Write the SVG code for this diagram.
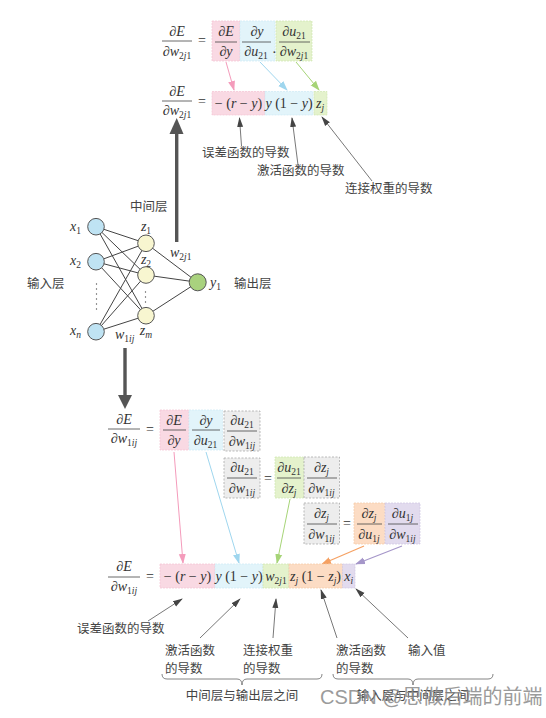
<svg xmlns="http://www.w3.org/2000/svg" width="546" height="718" viewBox="0 0 546 718">
<style>
.m{font-family:"Liberation Serif",serif;font-style:italic;font-size:14px;fill:#333}
.n{font-style:normal}
.s{font-size:9.5px}
.eq{font-family:"Liberation Serif",serif;font-size:14px;fill:#333}
.cn{font-family:"Noto Sans CJK SC","Noto Sans",sans-serif;font-size:12.5px;fill:#444}
.bar{stroke:#444;stroke-width:0.8}
.pk{fill:#f9d9e3;stroke:#f3c3d3;stroke-width:0.7;stroke-dasharray:2 1}
.bl{fill:#e2f4fa;stroke:#cdeaf5;stroke-width:0.7;stroke-dasharray:2 1}
.gr{fill:#e4f2cc;stroke:#cfe6b0;stroke-width:0.7;stroke-dasharray:2 1}
.or{fill:#fcdcc4;stroke:#f5caa8;stroke-width:0.7;stroke-dasharray:2 1}
.pu{fill:#e2dbee;stroke:#cfc6e2;stroke-width:0.7;stroke-dasharray:2 1}
.gy{fill:#ededed;stroke:#aaa;stroke-width:0.8;stroke-dasharray:2 1.5}
.net{stroke:#444;stroke-width:1}
.node{stroke:#555;stroke-width:1}
.ann{stroke:#555;stroke-width:0.8;fill:none;marker-end:url(#ak)}
.big{fill:#555}
.brace{fill:none;stroke:#666;stroke-width:0.8}
</style>
<defs>
<marker id="ak" markerWidth="10" markerHeight="8" refX="9" refY="4" orient="auto" markerUnits="userSpaceOnUse"><path d="M0,1 L10,4 L0,7 z" fill="#444"/></marker>
<marker id="apk" markerWidth="10" markerHeight="8" refX="9" refY="4" orient="auto" markerUnits="userSpaceOnUse"><path d="M0,0.5 L10,4 L0,7.5 z" fill="#f49bbb"/></marker>
<marker id="abl" markerWidth="10" markerHeight="8" refX="9" refY="4" orient="auto" markerUnits="userSpaceOnUse"><path d="M0,0.5 L10,4 L0,7.5 z" fill="#9fd6ee"/></marker>
<marker id="agr" markerWidth="10" markerHeight="8" refX="9" refY="4" orient="auto" markerUnits="userSpaceOnUse"><path d="M0,0.5 L10,4 L0,7.5 z" fill="#a6d477"/></marker>
<marker id="aor" markerWidth="10" markerHeight="8" refX="9" refY="4" orient="auto" markerUnits="userSpaceOnUse"><path d="M0,0.5 L10,4 L0,7.5 z" fill="#f5a062"/></marker>
<marker id="apu" markerWidth="10" markerHeight="8" refX="9" refY="4" orient="auto" markerUnits="userSpaceOnUse"><path d="M0,0.5 L10,4 L0,7.5 z" fill="#a596c9"/></marker>
</defs>
<rect width="546" height="718" fill="#ffffff"/>

<g id="connectors">
  <line x1="226" y1="62" x2="234" y2="90" stroke="#f49bbb" stroke-width="1" marker-end="url(#apk)"/>
  <line x1="260" y1="62" x2="287" y2="90" stroke="#9fd6ee" stroke-width="1" marker-end="url(#abl)"/>
  <line x1="296" y1="62" x2="319" y2="90" stroke="#a6d477" stroke-width="1" marker-end="url(#agr)"/>
  <line class="ann" x1="241.5" y1="146" x2="239.5" y2="118"/>
  <line class="ann" x1="298" y1="165" x2="292" y2="118"/>
  <line class="ann" x1="372" y1="181" x2="322" y2="117"/>
  <rect class="big" x="175" y="133" width="3.4" height="109"/>
  <polygon class="big" points="169.5,134 183.5,134 176.7,118"/>
  <rect class="big" x="123.3" y="348" width="3.4" height="48"/>
  <polygon class="big" points="118,395 132,395 125,409"/>
  <g class="net">
    <line x1="96" y1="226.7" x2="146" y2="243.3"/>
    <line x1="96" y1="226.7" x2="146" y2="275"/>
    <line x1="96" y1="226.7" x2="146" y2="315.7"/>
    <line x1="96" y1="261.7" x2="146" y2="243.3"/>
    <line x1="96" y1="261.7" x2="146" y2="275"/>
    <line x1="96" y1="261.7" x2="146" y2="315.7"/>
    <line x1="96" y1="331.7" x2="146" y2="243.3"/>
    <line x1="96" y1="331.7" x2="146" y2="275"/>
    <line x1="96" y1="331.7" x2="146" y2="315.7"/>
    <line x1="146" y1="243.3" x2="197.7" y2="282.3"/>
    <line x1="146" y1="275" x2="197.7" y2="282.3"/>
    <line x1="146" y1="315.7" x2="197.7" y2="282.3"/>
  </g>
  <line x1="174" y1="452" x2="183" y2="563" stroke="#f49bbb" stroke-width="1" marker-end="url(#apk)"/>
  <line x1="206" y1="452" x2="239" y2="563" stroke="#9fd6ee" stroke-width="1" marker-end="url(#abl)"/>
  <line x1="290" y1="499" x2="277" y2="563" stroke="#a6d477" stroke-width="1" marker-end="url(#agr)"/>
  <line x1="364" y1="546" x2="322" y2="564" stroke="#f5a062" stroke-width="1.2" marker-end="url(#aor)"/>
  <line x1="402" y1="546" x2="356" y2="564" stroke="#a596c9" stroke-width="1.2" marker-end="url(#apu)"/>
  <line class="ann" x1="148" y1="621" x2="182" y2="599"/>
  <line class="ann" x1="200" y1="638" x2="240" y2="599"/>
  <line class="ann" x1="273" y1="638" x2="276" y2="599"/>
  <line class="ann" x1="337" y1="638" x2="321" y2="590"/>
  <line class="ann" x1="408" y1="638" x2="356" y2="589"/>
  <path class="brace" d="M162,674 q0,5 5,5 L237,679 q5,0 5,6 q0,-6 5,-6 L317,679 q5,0 5,-5"/>
  <path class="brace" d="M333,674 q0,5 5,5 L408,679 q5,0 5,6 q0,-6 5,-6 L488,679 q5,0 5,-5"/>
</g>

<g id="eq-top">
  <text class="m" x="177" y="36" text-anchor="middle">∂E</text>
  <line class="bar" x1="162" y1="41" x2="192" y2="41"/>
  <text class="m" x="177" y="56" text-anchor="middle">∂w<tspan class="s" dy="3"><tspan class="n">2</tspan>j<tspan class="n">1</tspan></tspan></text>
  <text class="eq" x="202" y="45" text-anchor="middle">=</text>
  <rect class="pk" x="212" y="21" width="28" height="40"/>
  <rect class="bl" x="240" y="21" width="35" height="40"/>
  <rect class="gr" x="276" y="21" width="36" height="40"/>
  <text class="m" x="226" y="36" text-anchor="middle">∂E</text>
  <line class="bar" x1="215" y1="42" x2="237" y2="42"/>
  <text class="m" x="226" y="56" text-anchor="middle">∂y</text>
  <text class="m" x="257" y="36" text-anchor="middle">∂y</text>
  <line class="bar" x1="242" y1="42" x2="271" y2="42"/>
  <text class="m" x="256" y="56" text-anchor="middle">∂u<tspan class="s n" dy="3">21</tspan></text>
  <text class="eq" x="272" y="57">·</text>
  <text class="m" x="294" y="36" text-anchor="middle">∂u<tspan class="s n" dy="3">21</tspan></text>
  <line class="bar" x1="279" y1="42" x2="310" y2="42"/>
  <text class="m" x="294" y="56" text-anchor="middle">∂w<tspan class="s" dy="3"><tspan class="n">2</tspan>j<tspan class="n">1</tspan></tspan></text>
</g>

<g id="eq-top-result">
  <text class="m" x="177" y="96" text-anchor="middle">∂E</text>
  <line class="bar" x1="162" y1="101" x2="192" y2="101"/>
  <text class="m" x="177" y="115" text-anchor="middle">∂w<tspan class="s" dy="3"><tspan class="n">2</tspan>j<tspan class="n">1</tspan></tspan></text>
  <text class="eq" x="202" y="106" text-anchor="middle">=</text>
  <rect class="pk" x="212" y="91.5" width="53" height="23.5"/>
  <rect class="bl" x="265" y="91.5" width="48" height="23.5"/>
  <rect class="gr" x="314" y="91.5" width="13" height="23.5"/>
  <text class="m" x="238.5" y="108" text-anchor="middle"><tspan class="n">− (</tspan>r <tspan class="n">−</tspan> y<tspan class="n">)</tspan></text>
  <text class="m" x="289" y="108" text-anchor="middle">y <tspan class="n">(1 −</tspan> y<tspan class="n">)</tspan></text>
  <text class="m" x="320" y="108" text-anchor="middle">z<tspan class="s" dy="3">j</tspan></text>
</g>

<g id="label-top-error"><text class="cn" x="202" y="157">误差函数的导数</text></g>
<g id="label-top-act"><text class="cn" x="257" y="175">激活函数的导数</text></g>
<g id="label-top-weight"><text class="cn" x="345" y="193">连接权重的导数</text></g>

<g id="network">
  <text class="cn" x="130" y="211">中间层</text>
  <text class="cn" x="27" y="288">输入层</text>
  <text class="cn" x="234" y="288">输出层</text>
  <g id="node-x1"><circle class="node" cx="96" cy="226.7" r="8.3" fill="#bfe3f3"/><text class="m" x="70" y="231">x<tspan class="s n" dy="3">1</tspan></text></g>
  <g id="node-x2"><circle class="node" cx="96" cy="261.7" r="8.3" fill="#bfe3f3"/><text class="m" x="70" y="265">x<tspan class="s n" dy="3">2</tspan></text></g>
  <g id="node-xn"><circle class="node" cx="96" cy="331.7" r="8.3" fill="#bfe3f3"/><text class="m" x="70" y="335">x<tspan class="s" dy="3">n</tspan></text></g>
  <g id="dots-x" fill="#555"><circle cx="96.5" cy="284" r="0.7"/><circle cx="96.5" cy="289" r="0.7"/><circle cx="96.5" cy="294" r="0.7"/><circle cx="96.5" cy="299" r="0.7"/><circle cx="96.5" cy="304" r="0.7"/><circle cx="96.5" cy="309" r="0.7"/></g>
  <g id="node-z1"><circle class="node" cx="146" cy="243.3" r="8.3" fill="#f8f6d0"/><text class="m" x="146" y="231" text-anchor="middle">z<tspan class="s n" dy="3">1</tspan></text></g>
  <g id="node-z2"><circle class="node" cx="146" cy="275" r="8.3" fill="#f8f6d0"/><text class="m" x="146" y="264" text-anchor="middle">z<tspan class="s n" dy="3">2</tspan></text></g>
  <g id="node-zm"><circle class="node" cx="146" cy="315.7" r="8.3" fill="#f8f6d0"/><text class="m" x="146" y="335" text-anchor="middle">z<tspan class="s" dy="3">m</tspan></text></g>
  <g id="dots-z" fill="#555"><circle cx="145.5" cy="292" r="0.7"/><circle cx="145.5" cy="297" r="0.7"/><circle cx="145.5" cy="302" r="0.7"/></g>
  <g id="node-y1"><circle class="node" cx="197.7" cy="282.3" r="8.5" fill="#a9d27e"/><text class="m" x="210" y="287">y<tspan class="s n" dy="3">1</tspan></text></g>
  <text class="m" x="170" y="257" font-size="13">w<tspan class="s" dy="3"><tspan class="n">2</tspan>j<tspan class="n">1</tspan></tspan></text>
  <text class="m" x="115" y="339" font-size="13">w<tspan class="s" dy="3"><tspan class="n">1</tspan>ij</tspan></text>
</g>

<g id="eq-mid">
  <text class="m" x="124" y="424" text-anchor="middle">∂E</text>
  <line class="bar" x1="108" y1="429" x2="140" y2="429"/>
  <text class="m" x="124" y="443" text-anchor="middle">∂w<tspan class="s" dy="3"><tspan class="n">1</tspan>ij</tspan></text>
  <text class="eq" x="150" y="434" text-anchor="middle">=</text>
  <rect class="pk" x="160" y="410" width="28.5" height="40"/>
  <rect class="bl" x="189" y="410" width="33.5" height="40"/>
  <rect class="gy" x="224" y="411" width="36" height="40"/>
  <text class="m" x="174" y="425" text-anchor="middle">∂E</text>
  <line class="bar" x1="163" y1="430" x2="186" y2="430"/>
  <text class="m" x="174" y="445" text-anchor="middle">∂y</text>
  <text class="m" x="206" y="425" text-anchor="middle">∂y</text>
  <line class="bar" x1="192" y1="430" x2="220" y2="430"/>
  <text class="m" x="205.5" y="445" text-anchor="middle">∂u<tspan class="s n" dy="3">21</tspan></text>
  <text class="m" x="242" y="425" text-anchor="middle">∂u<tspan class="s n" dy="3">21</tspan></text>
  <line class="bar" x1="227" y1="431" x2="257" y2="431"/>
  <text class="m" x="242" y="446" text-anchor="middle">∂w<tspan class="s" dy="3"><tspan class="n">1</tspan>ij</tspan></text>
</g>

<g id="eq-mid-2">
  <rect class="gy" x="224" y="458" width="36" height="40"/>
  <text class="m" x="242" y="472" text-anchor="middle">∂u<tspan class="s n" dy="3">21</tspan></text>
  <line class="bar" x1="227" y1="478" x2="257" y2="478"/>
  <text class="m" x="242" y="493" text-anchor="middle">∂w<tspan class="s" dy="3"><tspan class="n">1</tspan>ij</tspan></text>
  <text class="eq" x="268" y="483" text-anchor="middle">=</text>
  <rect class="gr" x="275" y="457" width="28.5" height="41"/>
  <rect class="gy" x="304" y="457" width="35.5" height="41"/>
  <text class="m" x="289" y="472" text-anchor="middle">∂u<tspan class="s n" dy="3">21</tspan></text>
  <line class="bar" x1="277" y1="478" x2="301" y2="478"/>
  <text class="m" x="289" y="493" text-anchor="middle">∂z<tspan class="s" dy="3">j</tspan></text>
  <text class="m" x="321.5" y="472" text-anchor="middle">∂z<tspan class="s" dy="3">j</tspan></text>
  <line class="bar" x1="307" y1="478" x2="337" y2="478"/>
  <text class="m" x="321.5" y="493" text-anchor="middle">∂w<tspan class="s" dy="3"><tspan class="n">1</tspan>ij</tspan></text>
</g>

<g id="eq-mid-3">
  <rect class="gy" x="304" y="503" width="35.5" height="41"/>
  <text class="m" x="321.5" y="518" text-anchor="middle">∂z<tspan class="s" dy="3">j</tspan></text>
  <line class="bar" x1="307" y1="524" x2="337" y2="524"/>
  <text class="m" x="321.5" y="539" text-anchor="middle">∂w<tspan class="s" dy="3"><tspan class="n">1</tspan>ij</tspan></text>
  <text class="eq" x="347" y="528" text-anchor="middle">=</text>
  <rect class="or" x="354" y="503" width="30.5" height="41"/>
  <rect class="pu" x="385" y="503" width="35" height="41"/>
  <text class="m" x="369" y="518" text-anchor="middle">∂z<tspan class="s" dy="3">j</tspan></text>
  <line class="bar" x1="357" y1="524" x2="382" y2="524"/>
  <text class="m" x="369" y="539" text-anchor="middle">∂u<tspan class="s" dy="3"><tspan class="n">1</tspan>j</tspan></text>
  <text class="m" x="402.5" y="518" text-anchor="middle">∂u<tspan class="s" dy="3"><tspan class="n">1</tspan>j</tspan></text>
  <line class="bar" x1="388" y1="524" x2="418" y2="524"/>
  <text class="m" x="402.5" y="539" text-anchor="middle">∂w<tspan class="s" dy="3"><tspan class="n">1</tspan>ij</tspan></text>
</g>

<g id="eq-bottom">
  <text class="m" x="124" y="571" text-anchor="middle">∂E</text>
  <line class="bar" x1="108" y1="577" x2="140" y2="577"/>
  <text class="m" x="124" y="591" text-anchor="middle">∂w<tspan class="s" dy="3"><tspan class="n">1</tspan>ij</tspan></text>
  <text class="eq" x="150" y="581" text-anchor="middle">=</text>
  <rect class="pk" x="160" y="564" width="55" height="24"/>
  <rect class="bl" x="215" y="564" width="48" height="24"/>
  <rect class="gr" x="263" y="564" width="26" height="24"/>
  <rect class="or" x="289" y="564" width="53.5" height="24"/>
  <rect class="pu" x="342.5" y="564" width="12.5" height="24"/>
  <text class="m" x="187.5" y="581" text-anchor="middle"><tspan class="n">− (</tspan>r <tspan class="n">−</tspan> y<tspan class="n">)</tspan></text>
  <text class="m" x="239" y="581" text-anchor="middle">y <tspan class="n">(1 −</tspan> y<tspan class="n">)</tspan></text>
  <text class="m" x="276" y="581" text-anchor="middle">w<tspan class="s" dy="3"><tspan class="n">2</tspan>j<tspan class="n">1</tspan></tspan></text>
  <text class="m" x="315.5" y="581" text-anchor="middle">z<tspan class="s" dy="3">j</tspan><tspan dy="-3" class="n"> (1 −</tspan> z<tspan class="s" dy="3">j</tspan><tspan class="n" dy="-3">)</tspan></text>
  <text class="m" x="348.7" y="581" text-anchor="middle">x<tspan class="s" dy="3">i</tspan></text>
</g>

<g id="label-bot-error"><text class="cn" x="77" y="633">误差函数的导数</text></g>
<g id="label-bot-act1"><text class="cn" x="165" y="655">激活函数</text><text class="cn" x="165" y="673">的导数</text></g>
<g id="label-bot-weight"><text class="cn" x="243" y="655">连接权重</text><text class="cn" x="243" y="673">的导数</text></g>
<g id="label-bot-act2"><text class="cn" x="336" y="655">激活函数</text><text class="cn" x="336" y="673">的导数</text></g>
<g id="label-bot-input"><text class="cn" x="408" y="655">输入值</text></g>
<g id="label-brace1"><text class="cn" x="242" y="700" text-anchor="middle">中间层与输出层之间</text></g>
<g id="label-brace2"><text class="cn" x="413" y="700" text-anchor="middle">输入层与中间层之间</text></g>
<g id="watermark"><text x="320" y="704" font-family="Liberation Sans,Noto Sans CJK SC,sans-serif" font-size="20" fill="#8a8a8a" opacity="0.85">CSDN @思做后端的前端</text></g>
</svg>
